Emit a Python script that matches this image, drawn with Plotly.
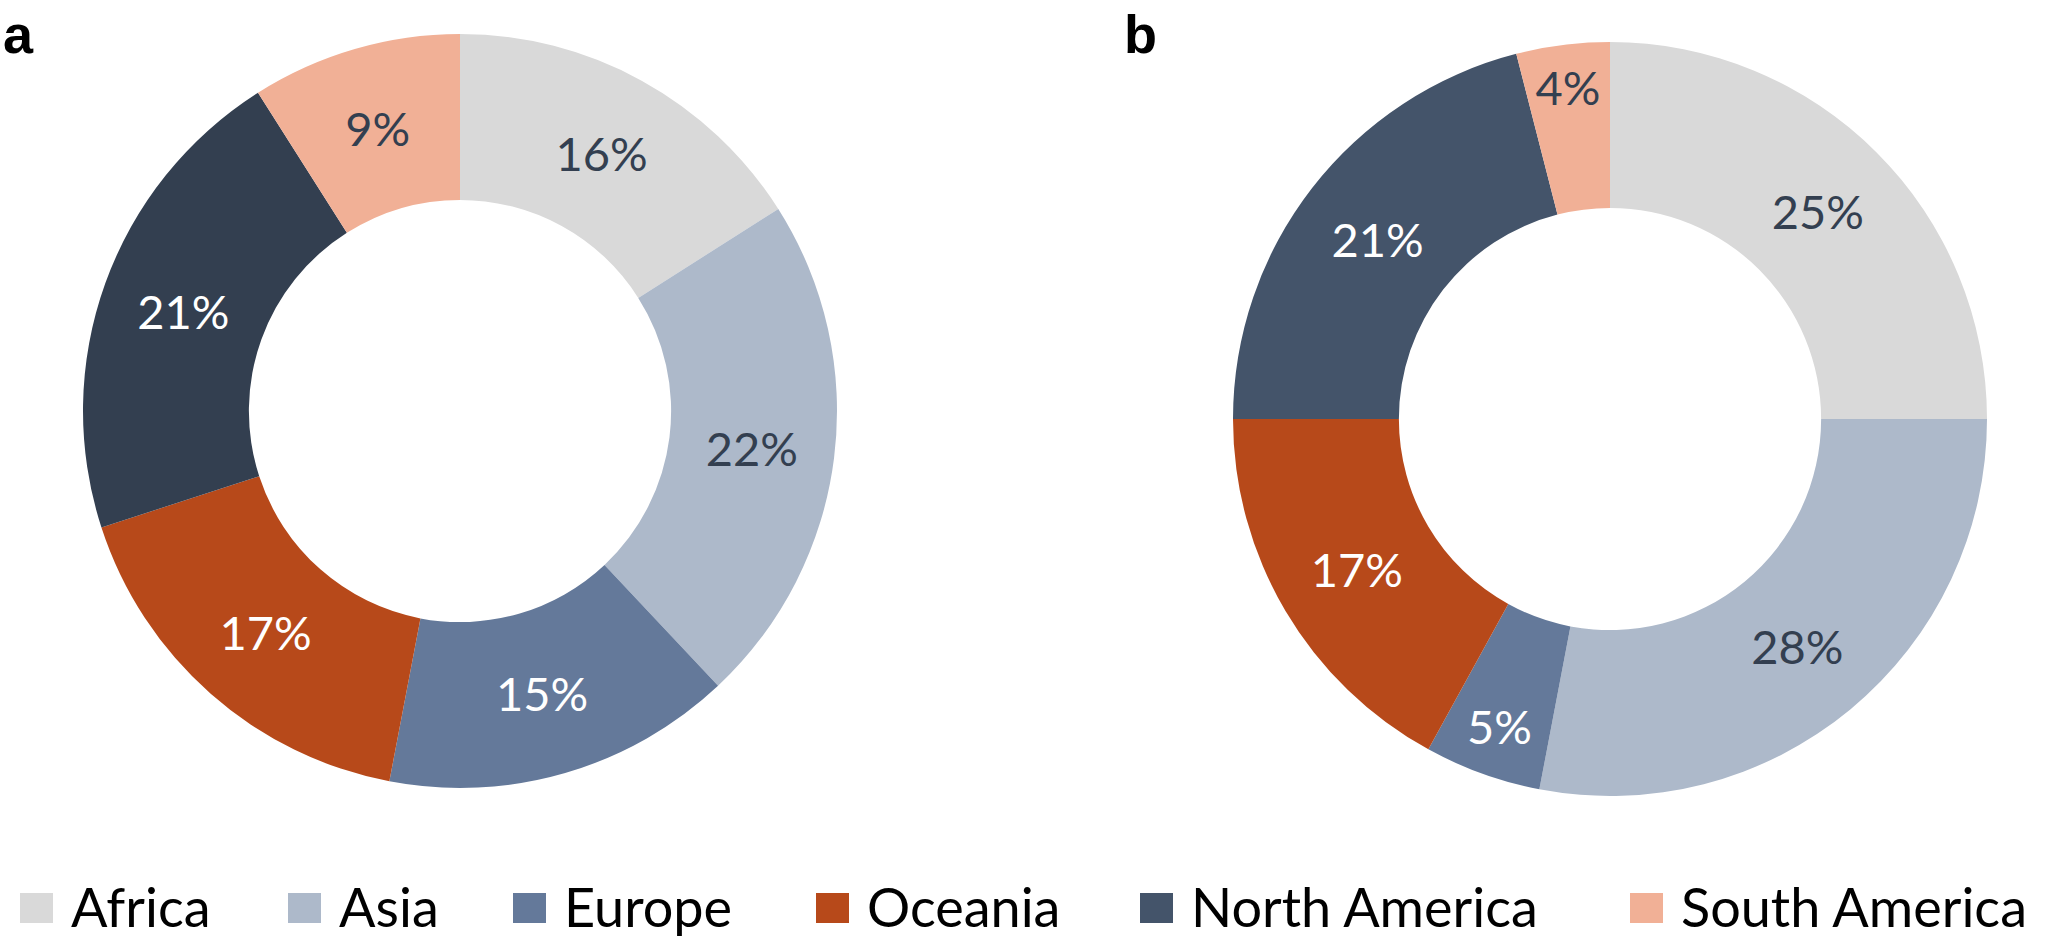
import plotly.graph_objects as go

# ---- data ----
regions = ["Africa", "Asia", "Europe", "Oceania", "North America", "South America"]
share_a = [16, 22, 15, 17, 21, 9]
share_b = [25, 28, 5, 17, 21, 4]
panel_labels = ["a", "b"]

# ---- styles ----
colors_a = ["#D9D9D9", "#ADB9CA", "#64799A", "#B7491A", "#333F50", "#F1B096"]
colors_b = ["#D9D9D9", "#ADB9CA", "#64799A", "#B7491A", "#44546A", "#F1B096"]
legend_colors = ["#D9D9D9", "#ADB9CA", "#64799A", "#B7491A", "#44546A", "#F1B096"]
text_colors = ["#333F50", "#333F50", "#FFFFFF", "#FFFFFF", "#FFFFFF", "#333F50"]

W, H = 2048, 951
FONT = "Lato"


def dom(cx, cy, r):
    return dict(x=[(cx - r) / W, (cx + r) / W], y=[(H - cy - r) / H, (H - cy + r) / H])


fig = go.Figure()
for vals, cols, d in [(share_a, colors_a, dom(460, 411, 377)),
                      (share_b, colors_b, dom(1610, 419, 377))]:
    fig.add_trace(go.Pie(
        labels=regions, values=vals, hole=0.56, sort=False, direction="clockwise",
        rotation=0, domain=d,
        marker=dict(colors=cols, line=dict(width=0)),
        texttemplate="%{value}%", textposition="inside",
        insidetextorientation="horizontal",
        textfont=dict(family=FONT, size=47, color=text_colors),
        showlegend=False, hoverinfo="label+percent",
    ))

annotations = []
shapes = []
# panel letters
for lab, px, py in zip(panel_labels, [1, 1122], [2, 2]):
    annotations.append(dict(text=f"<b>{lab}</b>", x=px / W, y=1 - py / H, xref="paper", yref="paper",
                            xanchor="left", yanchor="top", showarrow=False,
                            font=dict(family="Liberation Sans", size=54, color="black")))

# manual legend
legend_x = [20, 288, 513, 816, 1140, 1630]
box_w, box_h = 33, 30
box_top = 893
for name, col, lx in zip(regions, legend_colors, legend_x):
    shapes.append(dict(type="rect", xref="paper", yref="paper",
                       x0=lx / W, x1=(lx + box_w) / W,
                       y0=1 - (box_top + box_h) / H, y1=1 - box_top / H,
                       fillcolor=col, line=dict(width=0)))
    annotations.append(dict(text=name, x=(lx + box_w + 16) / W, y=1 - 906 / H,
                            xref="paper", yref="paper", xanchor="left", yanchor="middle",
                            showarrow=False,
                            font=dict(family=FONT, size=54, color="black")))

fig.update_layout(
    width=W, height=H, margin=dict(l=0, r=0, t=0, b=0),
    paper_bgcolor="white", plot_bgcolor="white",
    uniformtext=dict(minsize=47, mode="show"),
    annotations=annotations, shapes=shapes, showlegend=False,
)

fig.write_html("out.html")
